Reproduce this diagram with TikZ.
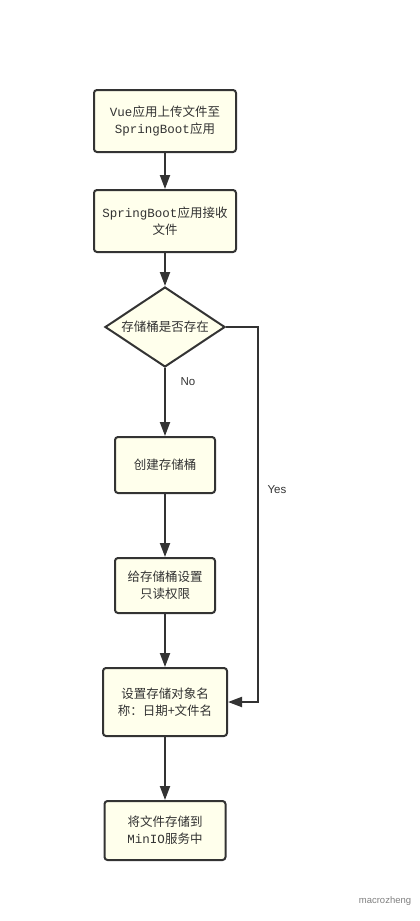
\documentclass[tikz,border=0pt]{standalone}
\usepackage{fontspec}
\setmainfont{Liberation Sans}
\newfontfamily\zh{Noto Sans CJK SC}
\newfontfamily\en{Liberation Mono}
\usepackage{tikz}
\usetikzlibrary{arrows.meta,calc,positioning,shapes.geometric}
\definecolor{boxfill}{RGB}{255,255,236}
\definecolor{boxline}{RGB}{51,51,51}
\tikzset{
stepbox/.style={
  rectangle,
  rounded corners=3pt,
  line width=2pt,
  inner sep=0pt,
  align=center,
  draw=boxline,
  fill=boxfill,
  text=boxline,
  font=\fontsize{12.5}{17}\selectfont,
  }
}
\tikzset{
askbox/.style={
  diamond,
  line width=2pt,
  inner sep=0pt,
  aspect=1.5,
  minimum width=120pt,
  minimum height=80pt,
  draw=boxline,
  fill=boxfill,
  text=boxline,
  font=\fontsize{12.5}{17}\selectfont,
  }
}
\tikzset{
flowline/.style={
  line width=2pt,
  draw=boxline,
  -{Triangle[length=14pt,width=10pt]}
  }
}
\tikzset{
tag/.style={
  font=\fontsize{11.5}{14}\selectfont,
  text=boxline,
  }
}

\begin{document}
\begin{tikzpicture}[x=1pt,y=1pt]
    \useasboundingbox (0,0) rectangle (420,-921);

    % upload part
    \node[stepbox, minimum width=142pt, minimum height=62pt] (upload) at (165,-121)
        {{\en Vue}{\zh 应用上传文件至}\\{\en SpringBoot}{\zh 应用}};
    \node[stepbox, minimum width=142pt, minimum height=62pt, below=36pt of upload] (receive)
        {{\en SpringBoot}{\zh 应用接收}\\{\zh 文件}};
    \node[askbox, below=33pt of receive] (exists) {\zh 存储桶是否存在};

    % bucket part
    \node[stepbox, minimum width=100pt, minimum height=56pt, below=68pt of exists] (create)
        {\zh 创建存储桶};
    \node[stepbox, minimum width=100pt, minimum height=55pt, below=63pt of create] (policy)
        {\zh 给存储桶设置\\\zh 只读权限};

    % object part
    \node[stepbox, minimum width=124pt, minimum height=68pt, below=53pt of policy] (objname)
        {\zh 设置存储对象名\\\zh 称：日期+文件名};
    \node[stepbox, minimum width=121pt, minimum height=59pt, below=63pt of objname] (store)
        {{\zh 将文件存储到}\\{\en MinIO}{\zh 服务中}};

    % labels
    \node[tag] (no) at (188,-382) {No};
    \node[tag] (yes) at (277,-490) {Yes};
    \node[font=\fontsize{9.5}{11}\selectfont, text=gray] (mark) at (385,-901) {macrozheng};

    % edges
    \draw[flowline] (upload) -- (receive);
    \draw[flowline] (receive) -- (exists);
    \draw[flowline] (exists) -- (create);
    \draw[flowline] (create) -- (policy);
    \draw[flowline] (policy) -- (objname);
    \draw[flowline] (objname) -- (store);
    \draw[flowline] (exists.east) -- ++(32,0) |- (objname.east);
\end{tikzpicture}
\end{document}
